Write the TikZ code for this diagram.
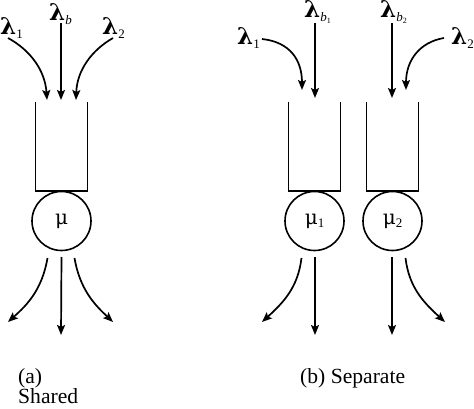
\documentclass[tikz,border=0pt]{standalone}
\usepackage{fontspec}
\setmainfont{Liberation Serif}
\newfontfamily\grk{DejaVu Serif}
\usetikzlibrary{arrows.meta,calc}
\newcommand\mysub[1]{\raisebox{-0.3ex}{\fontsize{13}{13}\selectfont #1}}
\newcommand\mysubsub[1]{\raisebox{-0.35ex}{\fontsize{8}{8}\selectfont #1}}
\newcommand\lam{{\grk\bfseries\fontsize{23}{23}\selectfont λ}}
\newcommand\mmu{{\grk\fontsize{20}{20}\selectfont μ}}
\begin{document}
\begin{tikzpicture}[x=1pt,y=-1pt,
  lab/.style={inner sep=0pt, anchor=base west, font=\fontsize{22}{22}\selectfont},
  captxt/.style={inner sep=0pt, anchor=base west, font=\fontsize{21.6}{24}\selectfont},
  srv/.style={circle, draw, line width=1.6pt, inner sep=0pt, minimum size=59pt, font=\fontsize{21}{21}\selectfont},
  box/.style={line width=1.8pt},
  arr/.style={line width=1.7pt, -{Stealth[length=10pt,width=8pt,inset=2pt]}}]
\useasboundingbox (0,0) rectangle (474,409);

% ---------- (a) Shared ----------
\node[srv] (mua) at (61.5,221) {\mmu};
\draw[box] ($(mua.north)+(-26,-89)$) |- ($(mua.north)+(26,0)$) -- ++(0,-89);

\node[lab] (la1) at (0,35) {\lam\mysub{1}};
\node[lab] (lab) at (49,21) {\lam\mysub{\itshape b}};
\node[lab] (la2) at (102,35) {\lam\mysub{2}};

\coordinate (sa1) at (8,38);   \coordinate (ta1) at (47,100);
\coordinate (sab) at (61,23);  \coordinate (tab) at (61,100);
\coordinate (sa2) at (113,38); \coordinate (ta2) at (76,100);
\draw[arr] (sa1) .. controls (30,50) and (45,70) .. (ta1);
\draw[arr] (sab) -- (tab);
\draw[arr] (sa2) .. controls (92,50) and (77,70) .. (ta2);

\coordinate (oa1) at (8,322);
\coordinate (oa2) at (61,335);
\coordinate (oa3) at (113,322);
\draw[arr] ($(mua.center)+(-14,37)$) .. controls (42,290) and (27,305) .. (oa1);
\draw[arr] ($(mua.center)+(0,36)$) -- (oa2);
\draw[arr] ($(mua.center)+(13,37)$) .. controls (80,290) and (95,305) .. (oa3);

\node[captxt] (capa) at (18,383) {(a)};
\node[captxt] (capa2) at (18,403) {Shared};

% ---------- (b) Separate ----------
\node[srv] (mub1) at (314.5,221) {\mmu\mysub{1}};
\node[srv] (mub2) at (392.5,221) {\mmu\mysub{2}};
\draw[box] ($(mub1.north)+(-26,-89)$) |- ($(mub1.north)+(26,0)$) -- ++(0,-89);
\draw[box] ($(mub2.north)+(-26,-89)$) |- ($(mub2.north)+(26,0)$) -- ++(0,-89);

\node[lab] (lb1) at (237,45) {\lam\mysub{1}};
\node[lab] (lbb1) at (304,18) {\lam\mysub{\itshape b\mysubsub{\upshape 1}}};
\node[lab] (lbb2) at (380,18) {\lam\mysub{\itshape b\mysubsub{\upshape 2}}};
\node[lab] (lb2) at (451,45) {\lam\mysub{2}};

\coordinate (sb1) at (262,39);  \coordinate (tb1) at (302,90);
\coordinate (sbb1) at (315,23); \coordinate (tbb1) at (315,98);
\coordinate (sbb2) at (392,23); \coordinate (tbb2) at (392,98);
\coordinate (sb2) at (444,38);  \coordinate (tb2) at (406,90);
\draw[arr] (sb1) .. controls (290,42) and (302,60) .. (tb1);
\draw[arr] (sbb1) -- (tbb1);
\draw[arr] (sbb2) -- (tbb2);
\draw[arr] (sb2) .. controls (420,42) and (406,60) .. (tb2);

\coordinate (ob1) at (262,322);
\coordinate (ob2) at (315,335);
\coordinate (ob3) at (392,335);
\coordinate (ob4) at (445,322);
\draw[arr] ($(mub1.center)+(-13,37)$) .. controls (298,287) and (284,302) .. (ob1);
\draw[arr] ($(mub1.center)+(0.5,36)$) -- (ob2);
\draw[arr] ($(mub2.center)+(-0.5,36)$) -- (ob3);
\draw[arr] ($(mub2.center)+(13,37)$) .. controls (409,287) and (423,302) .. (ob4);

\node[captxt] (capb) at (300,383) {(b) Separate};
\end{tikzpicture}
\end{document}
